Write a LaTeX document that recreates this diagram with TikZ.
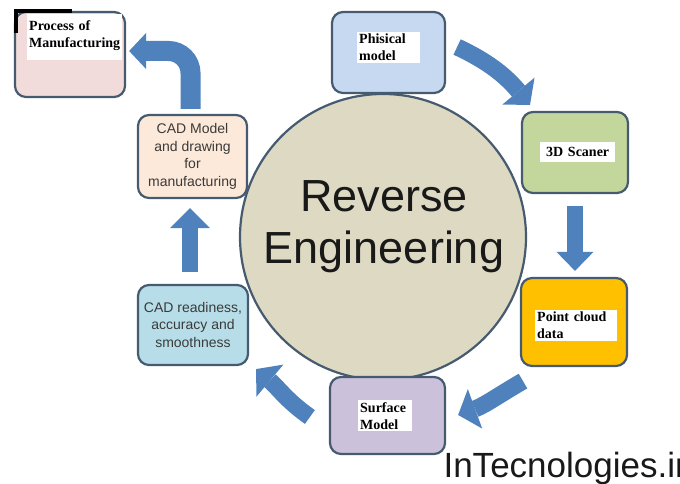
\documentclass[tikz,border=0pt]{standalone}
\usepackage{fontspec}
\setmainfont{Liberation Sans}
\newfontfamily\tnr{Liberation Serif}
\usepackage{xcolor}
\usetikzlibrary{arrows.meta, positioning}

\definecolor{edge}{HTML}{465A70}
\definecolor{flow}{HTML}{4F81BD}
\definecolor{hub}{HTML}{DDD9C3}
\definecolor{ink}{HTML}{3A3A3A}
\definecolor{procfill}{HTML}{F2DCDB}
\definecolor{physfill}{HTML}{C6D9F1}
\definecolor{scanfill}{HTML}{C3D69B}
\definecolor{cloudfill}{HTML}{FFC000}
\definecolor{surffill}{HTML}{CCC1DA}
\definecolor{readyfill}{HTML}{B7DEE8}
\definecolor{cadmfill}{HTML}{FDE9D9}

\begin{document}
\begin{tikzpicture}[x=1pt, y=1pt,
    box/.style={draw=edge, line width=2.2pt, rounded corners=11pt, fill=#1},
    tag/.style={fill=white, anchor=north west, inner sep=2pt, align=left, text width=#1, font=\tnr\bfseries\fontsize{14}{17}\selectfont},
    note/.style={align=center, text=ink, font=\fontsize{14}{17.5}\selectfont},
    arr/.style={draw=flow, line width=17pt, -{Triangle[length=18pt, width=42pt, line width=0pt]}}
]
    \useasboundingbox (0,0) rectangle (680,484);

    % hub
    \node[circle, draw=edge, line width=2.2pt, fill=hub, minimum size=286pt] (core) at (383,247) {};
    \node[font=\fontsize{45}{52}\selectfont, align=center, text=black!90] (title) at (384,257) {Reverse\\Engineering};

    % steps
    \node[box=procfill,  minimum width=110pt, minimum height=85pt] (proc)  at (70,429.5)  {};
    \node[box=physfill,  minimum width=113pt, minimum height=81pt] (phys)  at (388.5,431.5) {};
    \node[box=scanfill,  minimum width=106pt, minimum height=81pt] (scan)  at (575,331.5) {};
    \node[box=cloudfill, minimum width=106pt, minimum height=88pt] (cloud) at (574,162)   {};
    \node[box=surffill,  minimum width=115pt, minimum height=77pt] (surf)  at (387.5,68.5) {};
    \node[box=readyfill, minimum width=110pt, minimum height=80pt, note] (ready) at (193,159)
        {CAD readiness,\\accuracy and\\smoothness};
    \node[box=cadmfill,  minimum width=109pt, minimum height=83pt, note] (cadm)  at (192.5,327.5)
        {CAD Model\\and drawing\\for\\manufacturing};

    % labels
    \node[tag=91pt, text depth=24pt, inner ysep=6pt] (procT) at (27,470) {Process of\\Manufacturing};
    \node[tag=59pt] (physT) at (357,452) {Phisical\\model};
    \node[tag=71pt, align=center, minimum height=20pt] (scanT) at (540,342) {3D Scaner};
    \node[tag=78pt] (cloudT) at (535,174) {Point cloud\\data};
    \node[tag=50pt] (surfT) at (358,84) {Surface\\Model};

    % mark
    \draw[line width=4pt] (15.5,451) -- (15.5,473) -- (72,473);

    % flow
    \draw[arr] ([shift={(11,5.5)}]phys.east) to[out=-25, in=130] ([shift={(-45,6)}]scan.north);
    \draw[arr, line width=16pt, -{Triangle[length=19pt, width=37pt, line width=0pt]}]
        ([yshift=-12]scan.south) -- ([shift={(1,6)}]cloud.north);
    \draw[arr] ([shift={(-51,-14)}]cloud.south) to[out=-150, in=20] ([shift={(12,0.5)}]surf.east);
    \draw[arr] ([shift={(-19,-1.5)}]surf.west) to[out=145, in=-40] ([shift={(7,-3)}]ready.south east);
    \draw[arr, line width=16pt, -{Triangle[length=20pt, width=40pt, line width=0pt]}]
        ([shift={(-3,12)}]ready.north) -- ([shift={(-2.5,-9)}]cadm.south);
    \draw[arr, line width=20pt, rounded corners=22pt, -{Triangle[length=17pt, width=36pt, line width=0pt]}]
        ([shift={(-2,5)}]cadm.north) |- ([shift={(3,3.5)}]proc.east);

    \node[anchor=base west, font=\fontsize{35}{40}\selectfont, text=black!90] (site) at (440,6) {InTecnologies.in};
\end{tikzpicture}
\end{document}
